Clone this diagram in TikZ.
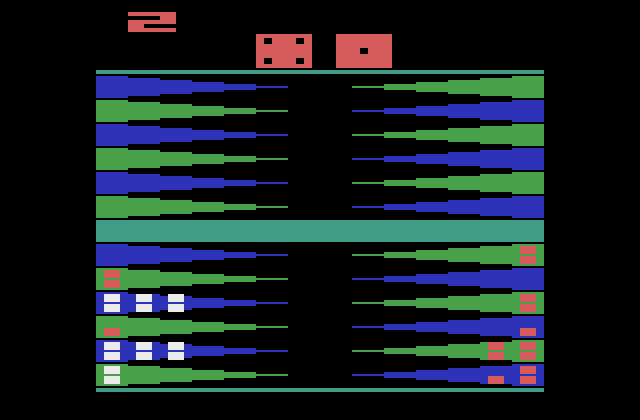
\documentclass[tikz,border=0pt]{standalone}
\definecolor{bl}{RGB}{45,50,184}
\definecolor{gr}{RGB}{72,160,72}
\definecolor{tl}{RGB}{64,156,132}
\definecolor{rd}{RGB}{214,92,92}
\definecolor{wh}{RGB}{236,236,236}
\newcommand\brow[3]{% y, leftcolor, rightcolor
  \foreach \i in {0,...,5}{
    \fill[#2] ({96+32*\i},{#1+2*\i}) rectangle ({128+32*\i},{#1+22-2*\i});
    \fill[#3] ({512-32*\i},{#1+2*\i}) rectangle ({544-32*\i},{#1+22-2*\i});
  }}
\newcommand\pc[3]{\fill[#3] (#1,#2) rectangle ({#1+16},{#2+8});}
\begin{document}
\begin{tikzpicture}[x=1pt,y=-1pt]
\useasboundingbox[fill=black] (0,0) rectangle (640,420);
% score digit 2
\fill[rd] (128,12) rectangle (176,16);
\fill[rd] (160,16) rectangle (176,20);
\fill[rd] (128,20) rectangle (176,24);
\fill[rd] (128,24) rectangle (144,28);
\fill[rd] (128,28) rectangle (176,32);
% dice
\fill[rd] (256,34) rectangle (312,68);
\foreach \x in {264,296}{\foreach \y in {38,58}{\fill[black] (\x,\y) rectangle ({\x+8},{\y+6});}}
\fill[rd] (336,34) rectangle (392,68);
\fill[black] (360,48) rectangle (368,54);
% bars
\fill[tl] (96,70) rectangle (544,74);
\fill[tl] (96,220) rectangle (544,242);
\fill[tl] (96,388) rectangle (544,392);
% rows
\foreach \y/\a/\b in {76/bl/gr,100/gr/bl,124/bl/gr,148/gr/bl,172/bl/gr,196/gr/bl,
  244/bl/gr,268/gr/bl,292/bl/gr,316/gr/bl,340/bl/gr,364/gr/bl}{\brow{\y}{\a}{\b}}
% pieces left
\pc{104}{270}{rd}\pc{104}{280}{rd}
\foreach \x in {104,136,168}{\pc{\x}{294}{wh}\pc{\x}{304}{wh}\pc{\x}{342}{wh}\pc{\x}{352}{wh}}
\pc{104}{328}{rd}
\pc{104}{366}{wh}\pc{104}{376}{wh}
% pieces right
\pc{520}{246}{rd}\pc{520}{256}{rd}
\pc{520}{294}{rd}\pc{520}{304}{rd}
\pc{520}{328}{rd}
\pc{520}{342}{rd}\pc{520}{352}{rd}\pc{488}{342}{rd}\pc{488}{352}{rd}
\pc{520}{366}{rd}\pc{520}{376}{rd}\pc{488}{376}{rd}
\end{tikzpicture}
\end{document}
